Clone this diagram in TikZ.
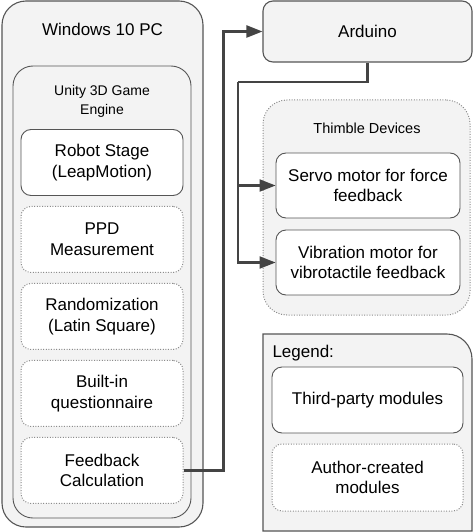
\documentclass[tikz,border=0pt]{standalone}
\usepackage{fontspec}
\setmainfont{Liberation Sans}
\usetikzlibrary{positioning,arrows.meta}
\definecolor{boxfill}{HTML}{F3F3F3}
\definecolor{boxline}{HTML}{555555}
\definecolor{dotline}{HTML}{8C8C8C}
\definecolor{wireline}{HTML}{444444}

\begin{document}
\begin{tikzpicture}[
            x=1pt, y=1pt,
            node distance=10pt,
            >={Triangle[length=16pt,width=12pt]},
            groupbox/.style={draw=boxline, fill=boxfill, line width=1.1pt, rounded corners=24pt},
            solidbox/.style={draw=boxline, fill=white, line width=0.9pt, rounded corners=10pt, minimum width=162pt, minimum height=66pt, align=center, font=\fontsize{17}{20.5}\selectfont},
            dotbox/.style={solidbox, draw=dotline, line width=1pt, dash pattern=on 1pt off 1.6pt},
            wire/.style={draw=wireline, line width=2.2pt}
            ]
            \useasboundingbox (0,0) rectangle (474,-532);

            % PC and game engine
            \node [groupbox, minimum width=201pt, minimum height=526pt] (pc) at (102.5,-264) {};
            \node [font=\fontsize{17}{20.5}\selectfont] (pctitle) at (102.5,-29) {Windows 10 PC};
            \node [groupbox, line width=0.9pt, rounded corners=20pt, minimum width=178pt, minimum height=452pt] (unity) at (102,-292) {};
            \node [align=center, font=\fontsize{14}{19}\selectfont] (unitytitle) at (102,-101) {Unity 3D Game\\Engine};

            \node [solidbox] (robot) at (102,-162.5) {Robot Stage\\(LeapMotion)};
            \node [dotbox, below=of robot] (ppd) {PPD\\Measurement};
            \node [dotbox, below=of ppd] (random) {Randomization\\(Latin Square)};
            \node [dotbox, below=of random] (quest) {Built-in\\questionnaire};
            \node [dotbox, below=of quest] (feedback) {Feedback\\Calculation};

            % Arduino and thimbles
            \node [groupbox, rounded corners=10pt, minimum width=209pt, minimum height=61pt, font=\fontsize{17}{20.5}\selectfont] (arduino) at (367.5,-31.5) {Arduino};
            \node [groupbox, draw=dotline, line width=1pt, dash pattern=on 1pt off 1.6pt, minimum width=207pt, minimum height=215pt] (thimble) at (366.5,-207.5) {};
            \node [font=\fontsize{14.5}{19}\selectfont] (thimbletitle) at (367,-128) {Thimble Devices};
            \node [solidbox, minimum width=184pt, minimum height=65pt] (servo) at (368,-185.5) {Servo motor for force\\feedback};
            \node [solidbox, minimum width=184pt, minimum height=65pt] (vib) at (368,-262.5) {Vibration motor for\\vibrotactile feedback};

            % legend
            \filldraw [groupbox, rounded corners=0pt] (263,-531) -- (263,-334) -- (447,-334) arc[start angle=90, end angle=0, radius=25] -- (472,-531) -- cycle;
            \node [anchor=west, font=\fontsize{17}{20.5}\selectfont] (legendtitle) at (269,-353) {Legend:};
            \node [solidbox, minimum width=191pt] (third) at (367.5,-400) {Third-party modules};
            \node [dotbox, minimum width=191pt, minimum height=67pt] (author) at (367.5,-477.5) {Author-created\\modules};

            \coordinate (bus) at (238,-82);
            \draw [wire, ->] (feedback.east) -- ++(40,0) |- (arduino.west);
            \draw [wire] (arduino.south) |- (bus);
            \draw [wire, ->] (bus) |- (vib.west);
            \draw [wire, ->] (bus |- servo.west) -- (servo.west);
\end{tikzpicture}
\end{document}
